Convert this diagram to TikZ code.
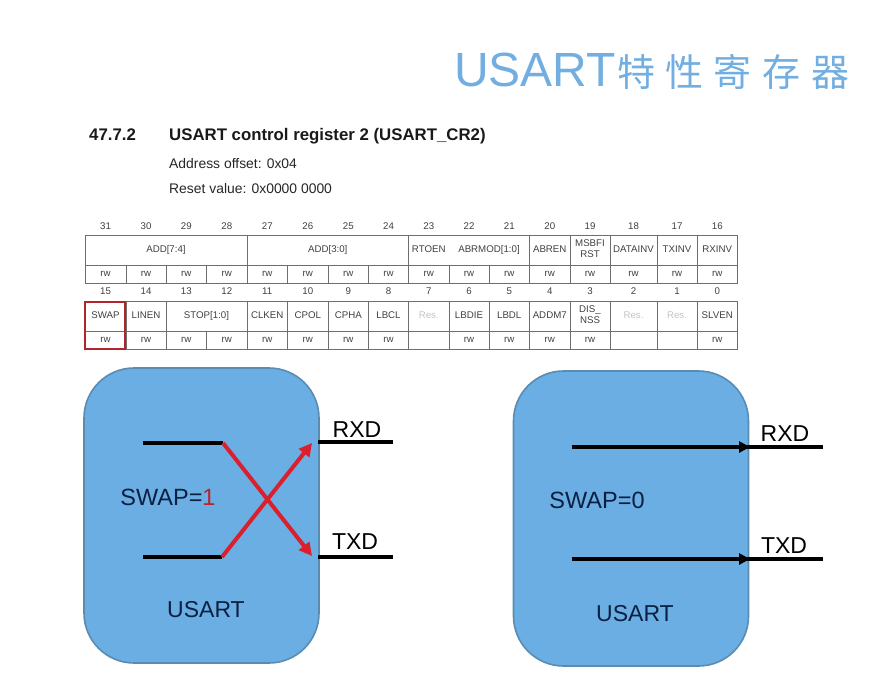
\documentclass[tikz,border=0pt]{standalone}
\usepackage{fontspec}
\setmainfont{Liberation Sans}
\newfontfamily\cjk{Noto Sans CJK SC}
\usepackage{xcolor}
\usetikzlibrary{arrows, arrows.meta}
\definecolor{titleblue}{HTML}{72AEE0}
\definecolor{boxblue}{HTML}{6AAEE4}
\definecolor{boxedge}{HTML}{5A8BB0}
\definecolor{swapred}{HTML}{D9202C}
\definecolor{cellred}{HTML}{B5232C}
\definecolor{cellline}{HTML}{6E6E6E}
\definecolor{resgrey}{HTML}{C4C4C4}
\definecolor{inkblue}{HTML}{0B1F40}

\begin{document}
\begin{tikzpicture}[x=1pt, y=-1pt]
\tikzstyle{cell}=[rectangle, draw=cellline, line width=.8pt, inner sep=0pt, align=center, font=\fontsize{9.7}{11}\selectfont, text=black!75, execute at begin node=\strut, execute at end node=\strut]
\tikzstyle{label}=[inner sep=0pt, font=\fontsize{9.7}{11}\selectfont, text=black!75, execute at begin node=\strut]
\tikzstyle{info}=[inner sep=0pt, anchor=base west, font=\fontsize{13.9}{15}\selectfont, text=black!85]
\tikzstyle{heading}=[inner sep=0pt, anchor=base west, font=\bfseries\fontsize{16.8}{18}\selectfont, text=black!90]
\tikzstyle{usart}=[rectangle, draw=boxedge, line width=1.6pt, fill=boxblue, rounded corners=50pt, minimum width=235pt, minimum height=295pt, inner sep=0pt]
\tikzstyle{big}=[inner sep=0pt, font=\fontsize{23}{26}\selectfont]
\tikzstyle{wire}=[line width=3.5pt, black]
\tikzstyle{swapwire}=[line width=4pt, swapred, -{Triangle[length=13pt, width=13pt]}]
\tikzstyle{thruwire}=[line width=3.5pt, black, -{Triangle[length=11pt, width=11pt]}]
\useasboundingbox (0,0) rectangle (894,682);

% title
\node[inner sep=0pt, anchor=west, text=titleblue, font=\fontsize{48}{52}\selectfont] (title) at (454,71) {USART{\cjk\fontsize{38}{40}\selectfont \hspace{1pt}特\hspace{10.5pt}性\hspace{10.5pt}寄\hspace{10.5pt}存\hspace{10.5pt}器}};

% heading
\node[heading] (secno) at (89,140.5) {47.7.2};
\node[heading] (sectitle) at (169,140.5) {USART control register 2 (USART\_CR2)};
\node[info] (offset) at (169,168.5) {Address offset: 0x04};
\node[info] (reset) at (169,193) {Reset value: 0x0000 0000};

% bit numbers
\foreach \bit/\xpos in {31/105.5,30/146,29/186.25,28/226.75,27/267.25,26/307.75,25/348.25,24/388.5,23/428.75,22/469,21/509.25,20/549.75,19/590,18/633.5,17/677,16/717.25}
  \node[label] (bit\bit) at (\xpos,227) {\bit};
\foreach \bit/\xpos in {15/105.5,14/146,13/186.25,12/226.75,11/267.25,10/307.75,9/348.25,8/388.5,7/428.75,6/469,5/509.25,4/549.75,3/590,2/633.5,1/677,0/717.25}
  \node[label] (bit\bit) at (\xpos,292) {\bit};

% upper fields
\node[cell, minimum width=162pt, minimum height=30pt] (add74) at (166,250) {ADD[7:4]};
\node[cell, minimum width=161.5pt, minimum height=30pt] (add30) at (327.75,250) {ADD[3:0]};
\node[cell, minimum width=121pt, minimum height=30pt] (abrbox) at (469,250) {};
\node[label] (rtoen) at (428.75,250) {RTOEN};
\node[label] (abrmod) at (489,250) {ABRMOD[1:0]};
\node[cell, minimum width=40.5pt, minimum height=30pt] (abren) at (549.75,250) {ABREN};
\node[cell, minimum width=40pt, minimum height=30pt] (msbfi) at (590,250) {MSBFI\\RST};
\node[cell, minimum width=47pt, minimum height=30pt] (datainv) at (633.5,250) {DATAINV};
\node[cell, minimum width=40pt, minimum height=30pt] (txinv) at (677,250) {TXINV};
\node[cell, minimum width=40.5pt, minimum height=30pt] (rxinv) at (717.25,250) {RXINV};

% lower fields
\node[cell, minimum width=41pt, minimum height=30pt] (swap) at (105.5,316) {SWAP};
\node[cell, minimum width=40pt, minimum height=30pt] (linen) at (146,316) {LINEN};
\node[cell, minimum width=81pt, minimum height=30pt] (stop) at (206.5,316) {STOP[1:0]};
\node[cell, minimum width=40.5pt, minimum height=30pt] (clken) at (267.25,316) {CLKEN};
\node[cell, minimum width=40.5pt, minimum height=30pt] (cpol) at (307.75,316) {CPOL};
\node[cell, minimum width=40.5pt, minimum height=30pt] (cpha) at (348.25,316) {CPHA};
\node[cell, minimum width=40pt, minimum height=30pt] (lbcl) at (388.5,316) {LBCL};
\node[cell, minimum width=40.5pt, minimum height=30pt, text=resgrey] (res7) at (428.75,316) {Res.};
\node[cell, minimum width=40pt, minimum height=30pt] (lbdie) at (469,316) {LBDIE};
\node[cell, minimum width=40.5pt, minimum height=30pt] (lbdl) at (509.25,316) {LBDL};
\node[cell, minimum width=40.5pt, minimum height=30pt] (addm7) at (549.75,316) {ADDM7};
\node[cell, minimum width=40pt, minimum height=30pt] (disnss) at (590,316) {DIS\_\\NSS};
\node[cell, minimum width=47pt, minimum height=30pt, text=resgrey] (res2) at (633.5,316) {Res.};
\node[cell, minimum width=40pt, minimum height=30pt, text=resgrey] (res1) at (677,316) {Res.};
\node[cell, minimum width=40.5pt, minimum height=30pt] (slven) at (717.25,316) {SLVEN};

% access rows
\foreach \bit/\xpos/\wid in {31/105.5/41,30/146/40,29/186.25/40.5,28/226.75/40.5,27/267.25/40.5,26/307.75/40.5,25/348.25/40.5,24/388.5/40,23/428.75/40.5,22/469/40,21/509.25/40.5,20/549.75/40.5,19/590/40,18/633.5/47,17/677/40,16/717.25/40.5}
  \node[cell, minimum width=\wid pt, minimum height=18pt] (rw\bit) at (\xpos,274) {rw};
\foreach \bit/\xpos/\wid/\acc in {15/105.5/41/rw,14/146/40/rw,13/186.25/40.5/rw,12/226.75/40.5/rw,11/267.25/40.5/rw,10/307.75/40.5/rw,9/348.25/40.5/rw,8/388.5/40/rw,7/428.75/40.5/,6/469/40/rw,5/509.25/40.5/rw,4/549.75/40.5/rw,3/590/40/rw,2/633.5/47/,1/677/40/,0/717.25/40.5/rw}
  \node[cell, minimum width=\wid pt, minimum height=18pt] (rw\bit) at (\xpos,340) {\acc};

\node[rectangle, draw=cellred, line width=2.8pt, minimum width=40pt, minimum height=47pt, inner sep=0pt] (swapmark) at (105,325.5) {};

% left block, swapped
\node[usart] (left) at (201.5,515.5) {};
\coordinate (lin1) at (143,443);
\coordinate (lin2) at (143,557);
\coordinate (lmid1) at (223,443);
\coordinate (lmid2) at (222,557);
\coordinate (lrx) at (318,442);
\coordinate (ltx) at (318,557);
\coordinate (lrxend) at (393,442);
\coordinate (ltxend) at (393,557);
\coordinate (lrxtip) at (312,443);
\coordinate (ltxtip) at (312,556);
\draw[wire] (lin1) -- (lmid1);
\draw[wire] (lin2) -- (lmid2);
\draw[wire] (lrx) -- (lrxend);
\draw[wire] (ltx) -- (ltxend);
\draw[swapwire] (lmid1) -- (ltxtip);
\draw[swapwire] (lmid2) -- (lrxtip);
\node[big] (lrxd) at (357,430) {RXD};
\node[big] (ltxd) at (355,542) {TXD};
\node[big, text=inkblue, font=\fontsize{23.5}{26}\selectfont] (lswap) at (168,497) {SWAP=\textcolor{cellred}{1}};
\node[big, text=inkblue] (lusart) at (206,610) {USART};

% right block, straight
\node[usart] (right) at (631,518.5) {};
\coordinate (rin1) at (572,447);
\coordinate (rin2) at (572,559);
\coordinate (rrx) at (750,447);
\coordinate (rtx) at (750,559);
\coordinate (rrxout) at (745,447);
\coordinate (rtxout) at (745,559);
\coordinate (rrxend) at (823,447);
\coordinate (rtxend) at (823,559);
\draw[thruwire] (rin1) -- (rrx);
\draw[thruwire] (rin2) -- (rtx);
\draw[wire] (rrxout) -- (rrxend);
\draw[wire] (rtxout) -- (rtxend);
\node[big] (rrxd) at (785,434) {RXD};
\node[big] (rtxd) at (784,546) {TXD};
\node[big, text=inkblue, font=\fontsize{23.5}{26}\selectfont] (rswap) at (597,500) {SWAP=0};
\node[big, text=inkblue] (rusart) at (635,614) {USART};
\end{tikzpicture}
\end{document}
